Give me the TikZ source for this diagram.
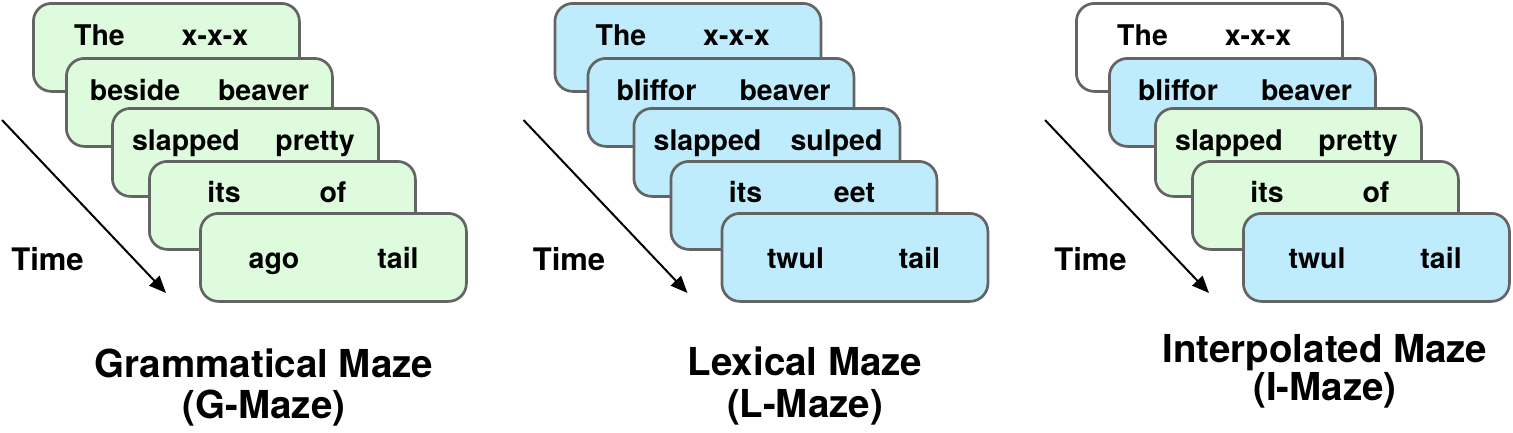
\documentclass[tikz,border=0pt]{standalone}
\usepackage{fontspec}
\setmainfont{TeX Gyre Heros}
\usetikzlibrary{arrows.meta}
\definecolor{cardgreen}{RGB}{222,251,221}
\definecolor{cardblue}{RGB}{190,236,252}
\definecolor{cardline}{RGB}{100,100,100}
\begin{document}
\begin{tikzpicture}[x=1pt,y=-1pt,
  card/.style={draw=cardline, line width=2.7pt, rounded corners=18pt,
    minimum width=266pt, minimum height=88pt, inner sep=0pt, outer sep=0pt,
    anchor=north west},
  gcard/.style={card, fill=cardgreen},
  bcard/.style={card, fill=cardblue},
  wcard/.style={card, fill=white},
  word/.style={anchor=base, inner sep=0pt, font=\fontsize{28.5}{30}\selectfont\bfseries},
  timelbl/.style={anchor=base, inner sep=0pt, font=\fontsize{31}{33}\selectfont\bfseries},
  title/.style={anchor=base, inner sep=0pt, font=\fontsize{38.5}{40}\selectfont\bfseries},
  timearrow/.style={line width=2pt, -{Triangle[length=17pt,width=14pt]}}
]
\useasboundingbox (0,0) rectangle (1513,432);

% ---------- Panel 1: Grammatical Maze ----------
\begin{scope}
\node[gcard] (ga) at (33.4,3.4) {};
\node[word] (ga1) at (99.5,45) {The};
\node[word] (ga2) at (215,45) {x-x-x};
\node[gcard] (gb) at (66.4,58.4) {};
\node[word] (gb1) at (135,100) {beside};
\node[word] (gb2) at (263.5,100) {beaver};
\node[gcard] (gc) at (112.4,108.4) {};
\node[word] (gc1) at (186,150) {slapped};
\node[word] (gc2) at (315,150) {pretty};
\node[gcard] (gd) at (149.4,161.4) {};
\node[word] (gd1) at (224,202) {its};
\node[word] (gd2) at (333,202) {of};
\node[gcard] (ge) at (200.4,213.4) {};
\node[word] (ge1) at (274,268) {ago};
\node[word] (ge2) at (398,268) {tail};
\node[timelbl] (gt) at (47.5,270) {Time};
\coordinate (gs) at (2,120);
\coordinate (gf) at (166,293);
\draw[timearrow] (gs) -- (gf);
\end{scope}

% ---------- Panel 2: Lexical Maze ----------
\begin{scope}[xshift=521.5pt]
\node[bcard] (la) at (33.4,3.4) {};
\node[word] (la1) at (99.5,45) {The};
\node[word] (la2) at (215,45) {x-x-x};
\node[bcard] (lb) at (66.4,58.4) {};
\node[word] (lb1) at (135,100) {bliffor};
\node[word] (lb2) at (263.5,100) {beaver};
\node[bcard] (lc) at (112.4,108.4) {};
\node[word] (lc1) at (186,150) {slapped};
\node[word] (lc2) at (315,150) {sulped};
\node[bcard] (ld) at (149.4,161.4) {};
\node[word] (ld1) at (224,202) {its};
\node[word] (ld2) at (333,202) {eet};
\node[bcard] (le) at (200.4,213.4) {};
\node[word] (le1) at (274,268) {twul};
\node[word] (le2) at (398,268) {tail};
\node[timelbl] (lt) at (47.5,270) {Time};
\coordinate (ls) at (2,120);
\coordinate (lf) at (166,293);
\draw[timearrow] (ls) -- (lf);
\end{scope}

% ---------- Panel 3: Interpolated Maze ----------
\begin{scope}[xshift=1043pt]
\node[wcard] (ia) at (33.4,3.4) {};
\node[word] (ia1) at (99.5,45) {The};
\node[word] (ia2) at (215,45) {x-x-x};
\node[bcard] (ib) at (66.4,58.4) {};
\node[word] (ib1) at (135,100) {bliffor};
\node[word] (ib2) at (263.5,100) {beaver};
\node[gcard] (ic) at (112.4,108.4) {};
\node[word] (ic1) at (186,150) {slapped};
\node[word] (ic2) at (315,150) {pretty};
\node[gcard] (id) at (149.4,161.4) {};
\node[word] (id1) at (224,202) {its};
\node[word] (id2) at (333,202) {of};
\node[bcard] (ie) at (200.4,213.4) {};
\node[word] (ie1) at (274,268) {twul};
\node[word] (ie2) at (398,268) {tail};
\node[timelbl] (it) at (47.5,270) {Time};
\coordinate (is) at (2,120);
\coordinate (if) at (166,293);
\draw[timearrow] (is) -- (if);
\end{scope}

% ---------- Titles ----------
\node[title] (t1a) at (264,377) {Grammatical Maze};
\node[title] (t1b) at (264,418) {(G-Maze)};
\node[title] (t2a) at (805,375) {Lexical Maze};
\node[title] (t2b) at (805,417) {(L-Maze)};
\node[title] (t3a) at (1325,362) {Interpolated Maze};
\node[title] (t3b) at (1325,400) {(I-Maze)};
\end{tikzpicture}
\end{document}
